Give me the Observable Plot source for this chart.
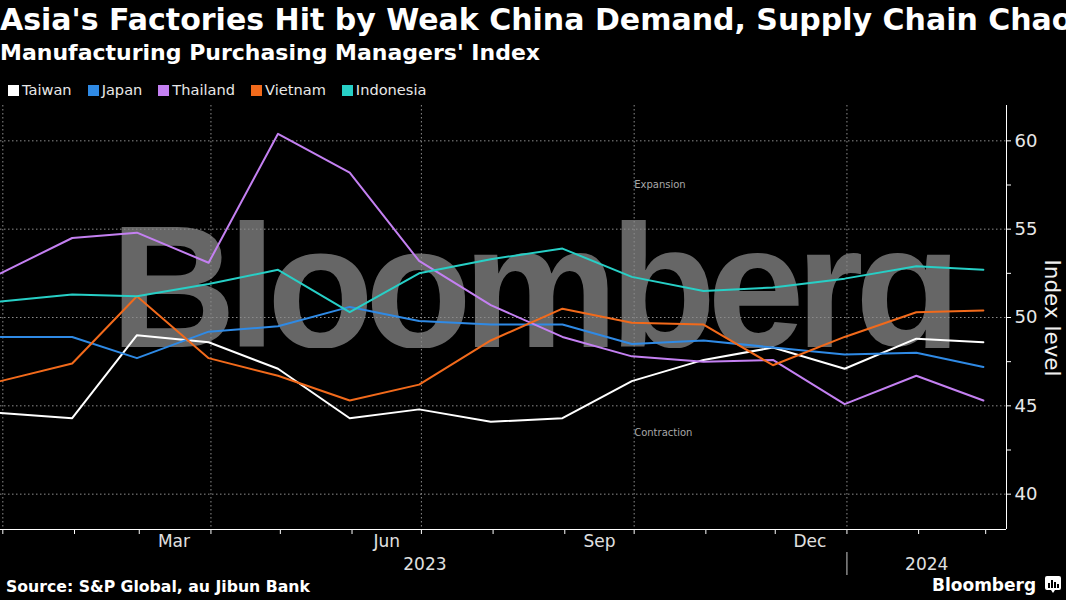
<!DOCTYPE html>
<html>
<head>
<meta charset="utf-8">
<script src="https://cdn.jsdelivr.net/npm/d3@7"></script>
<script src="https://cdn.jsdelivr.net/npm/@observablehq/plot@0.6"></script>
<style>
html,body{margin:0;padding:0;background:#000;width:1066px;height:600px;overflow:hidden;font-family:"DejaVu Sans",sans-serif;color:#fff}
#title{position:absolute;left:0;top:2px;font-size:30px;font-weight:bold;white-space:nowrap}
#subtitle{position:absolute;left:0;top:40px;font-size:22px;font-weight:bold;white-space:nowrap}
#legend{position:absolute;left:8px;top:80px;display:flex;font-size:14.6px;color:#e8e8e8;line-height:20px}
.item{display:flex;align-items:center;margin-right:16px}
.sw{width:11px;height:11px;margin-right:3px}
#wm{position:absolute;left:0;top:0}
#chart{position:absolute;left:0;top:100px}
#ylabel{position:absolute;left:1052px;top:318px;transform:translate(-50%,-50%) rotate(90deg);font-size:21.5px;color:#f0f0f0;white-space:nowrap}
#source{position:absolute;left:6px;top:577px;font-size:15.7px;font-weight:bold;white-space:nowrap}
#brand{position:absolute;left:932px;top:575px;font-size:17px;font-weight:bold;display:flex;align-items:center}
#brand svg{margin-left:9px}
</style>
</head>
<body>
<svg id="wm" width="1066" height="600">
  <defs><clipPath id="wmclip"><rect x="0" y="200" width="1066" height="148"/></clipPath></defs>
  <text x="110" y="347" clip-path="url(#wmclip)" font-family="Liberation Sans, Arial, sans-serif" font-weight="bold" font-size="175" letter-spacing="-9" fill="#666">Bloomberg</text>
</svg>
<div id="title">Asia's Factories Hit by Weak China Demand, Supply Chain Chaos</div>
<div id="subtitle">Manufacturing Purchasing Managers' Index</div>
<div id="legend"></div>
<div id="chart"></div>
<div id="ylabel">Index level</div>
<div id="source">Source: S&amp;P Global, au Jibun Bank</div>
<div id="brand">Bloomberg<svg width="16" height="18" viewBox="0 0 16 18"><path d="M2 0h12a2 2 0 0 1 2 2v10a2 2 0 0 1-2 2h-4l-2 3-2-3H2a2 2 0 0 1-2-2V2a2 2 0 0 1 2-2z" fill="#fff"/><rect x="3" y="7" width="2" height="5" fill="#000"/><rect x="6" y="4" width="2" height="8" fill="#000"/><rect x="9" y="6" width="2" height="6" fill="#000"/><rect x="12" y="8" width="2" height="4" fill="#000"/></svg></div>
<script>
// Month-end dates of the PMI readings
const dates = ["2022-12-31","2023-01-31","2023-02-28","2023-03-31","2023-04-30","2023-05-31","2023-06-30","2023-07-31","2023-08-31","2023-09-30","2023-10-31","2023-11-30","2023-12-31","2024-01-31","2024-02-29"];
const countries = ["Taiwan","Japan","Thailand","Vietnam","Indonesia"];
const colors = ["#ffffff","#2f8ae5","#c480f2","#f26a1b","#27cfc6"];
const taiwan    = [44.6,44.3,49.0,48.6,47.1,44.3,44.8,44.1,44.3,46.4,47.6,48.3,47.1,48.8,48.6];
const japan     = [48.9,48.9,47.7,49.2,49.5,50.6,49.8,49.6,49.6,48.5,48.7,48.3,47.9,48.0,47.2];
const thailand  = [52.5,54.5,54.8,53.1,60.4,58.2,53.2,50.7,48.9,47.8,47.5,47.6,45.1,46.7,45.3];
const vietnam   = [46.4,47.4,51.2,47.7,46.7,45.3,46.2,48.7,50.5,49.7,49.6,47.3,48.9,50.3,50.4];
const indonesia = [50.9,51.3,51.2,51.9,52.7,50.3,52.5,53.3,53.9,52.3,51.5,51.7,52.2,52.9,52.7];
const yTicks = [40,45,50,55,60];
const yMinor = [42.5,47.5,52.5,57.5];
const monthLabels = ["2023-03-16","2023-06-16","2023-09-16","2023-12-16"];
const quarterStarts = ["2023-01-01","2023-04-01","2023-07-01","2023-10-01","2024-01-01"];
const annotations = [{date:"2023-10-01", value:57.5, label:"Expansion"},{date:"2023-10-01", value:43.5, label:"Contraction"}];
const xDomain = ["2022-12-31","2024-03-10"];
const yDomain = [38,62];

const seriesValues = [taiwan, japan, thailand, vietnam, indonesia];
const rows = countries.flatMap((c, k) => seriesValues[k].map((v, i) => ({country: c, date: new Date(dates[i]), value: v})));

// legend
const leg = document.getElementById("legend");
countries.forEach((c, i) => {
  const it = document.createElement("div"); it.className = "item";
  it.innerHTML = `<span class="sw" style="background:${colors[i]}"></span><span>${c}</span>`;
  leg.appendChild(it);
});

const xStart = new Date(xDomain[0]), xEnd = new Date(xDomain[1]);
const monthStarts = d3.utcMonth.range(new Date("2023-01-01"), xEnd);
const y2024 = new Date("2024-01-01");
const yearMids = [new Date((new Date("2023-01-01").getTime() + y2024.getTime()) / 2), new Date((y2024.getTime() + xEnd.getTime()) / 2)];

const chart = Plot.plot({
  width: 1066, height: 480,
  marginLeft: 0, marginRight: 60, marginTop: 5, marginBottom: 51,
  style: {background: "transparent", color: "#e0e0e0", fontFamily: "DejaVu Sans, sans-serif", overflow: "visible"},
  x: {type: "utc", domain: [xStart, xEnd]},
  y: {domain: yDomain},
  color: {domain: countries, range: colors},
  marks: [
    Plot.gridY(yTicks, {stroke: "#8c8c8c", strokeOpacity: 1, strokeDasharray: "1.5,2.5"}),
    Plot.gridX(quarterStarts.map(d => new Date(d)), {stroke: "#8c8c8c", strokeOpacity: 1, strokeDasharray: "1.5,2.5"}),
    Plot.text(annotations, {x: d => new Date(d.date), y: "value", text: "label", textAnchor: "start", dx: 0, fill: "#a8a8a8", fontSize: 10}),
    Plot.line(rows, {x: "date", y: "value", z: "country", stroke: "country", strokeWidth: 2}),
    Plot.ruleY([yDomain[0]], {stroke: "#ffffff", strokeWidth: 1}),
    Plot.ruleX([xEnd], {stroke: "#ffffff", strokeWidth: 1}),
    Plot.axisX(monthStarts, {tickSize: 5, tickFormat: () => "", stroke: "#ffffff", label: null}),
    Plot.axisX(monthLabels.map(d => new Date(d)), {tickSize: 0, tickPadding: 5, tickFormat: d3.utcFormat("%b"), fontSize: 17, fill: "#e0e0e0", label: null}),
    Plot.axisX(yearMids, {tickSize: 0, tickPadding: 28, tickFormat: d3.utcFormat("%Y"), fontSize: 17, fill: "#e0e0e0", label: null}),
    Plot.axisX([y2024], {tickSize: 23, dy: 23, tickFormat: () => "", stroke: "#ffffff", strokeOpacity: 0.8, label: null}),
    Plot.axisY(yTicks, {anchor: "right", tickSize: 4, tickPadding: 4, fontSize: 18, fill: "#e8e8e8", stroke: "#ffffff", label: null}),
    Plot.axisY(yMinor, {anchor: "right", tickSize: 4, tickFormat: () => "", stroke: "#ffffff", label: null})
  ]
});
document.getElementById("chart").appendChild(chart);
</script>
</body>
</html>
